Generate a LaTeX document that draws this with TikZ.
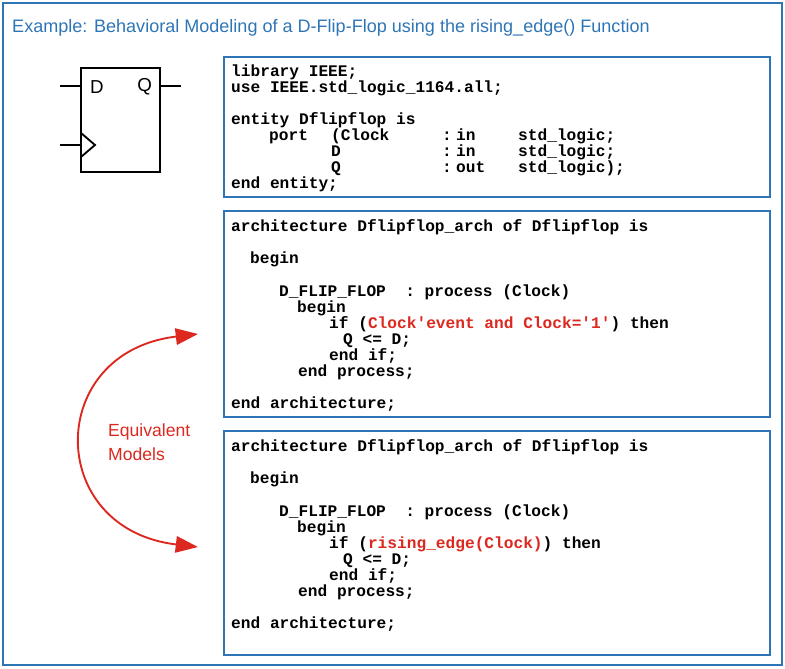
\documentclass[tikz,border=0pt]{standalone}
\usepackage{fontspec}
\setmainfont{Liberation Sans}
\setmonofont{Liberation Mono}
\usetikzlibrary{arrows.meta}
\definecolor{frameblue}{RGB}{46,117,182}
\definecolor{hired}{RGB}{220,40,30}
\newcommand{\red}[1]{\textcolor{hired}{#1}}
\begin{document}
\begin{tikzpicture}[x=0.03cm,y=-0.03cm]

  % Set up styles
  \tikzset{
      codebox/.style={draw=frameblue, line width=1.2pt},
      code/.style={anchor=base west, inner sep=0pt, font=\fontsize{13.8}{15}\ttfamily\bfseries},
      pin/.style={line width=1.6pt},
      equiv/.style={draw=hired, line width=1.6pt, {Triangle[length=19pt,width=14pt]}-{Triangle[length=19pt,width=14pt]}}
  }

  \useasboundingbox (0,0) rectangle (785,668);
  \draw[frameblue, line width=1.5pt] (3,3) rectangle (782,665);
  \node[anchor=base west, inner sep=0pt, text=frameblue, font=\fontsize{15.4}{17}\selectfont] (title) at (12,32)
      {Example: Behavioral Modeling of a D-Flip-Flop using the rising\_edge() Function};

  % flip-flop symbol
  \draw[pin] (81,68) rectangle (160,172);
  \draw[pin] (60,86) -- (81,86);
  \draw[pin] (160,86) -- (181,86);
  \draw[pin] (60,145) -- (81,145);
  \draw[pin] (81,133) -- (95,145) -- (81,157);
  \node[anchor=west, font=\fontsize{16}{17}\selectfont] (dpin) at (86,87) {D};
  \node[anchor=east, font=\fontsize{16}{17}\selectfont] (qpin) at (156,87) {Q};

  % entity box
  \draw[codebox] (224,57) rectangle (770,197);
  \node[code] (e1) at (231,76) {library IEEE;};
  \node[code] (e2) at (231,92) {use IEEE.std\_logic\_1164.all;};
  \node[code] (e3) at (231,124) {entity Dflipflop is};
  \node[code] (e4) at (269,140) {port};
  \foreach \y/\n/\m/\t in {140/(Clock/in/std\_logic;, 156/D/in/std\_logic;, 172/Q/out/std\_logic);} {
      \node[code] at (331,\y) {\n};
      \node[code] at (442,\y) {:};
      \node[code] at (456,\y) {\m};
      \node[code] at (518,\y) {\t};
  }
  \node[code] (e5) at (231,188) {end entity;};

  % architecture boxes
  \draw[codebox] (224,211) rectangle (770,417);
  \draw[codebox] (224,431) rectangle (770,655);
  \foreach \o/\cond in {0/\red{Clock'event and Clock='1'}, 220/\red{rising\_edge(Clock)}} {
      \node[code] at (231,231+\o) {architecture Dflipflop\_arch of Dflipflop is};
      \node[code] at (250,263+\o) {begin};
      \node[code] at (279,296+\o) {D\_FLIP\_FLOP~~:~process~(Clock)};
      \node[code] at (297,312+\o) {begin};
      \node[code] at (329,328+\o) {if~(\cond)~then};
      \node[code] at (343,344+\o) {Q~<=~D;};
      \node[code] at (329,360+\o) {end~if;};
      \node[code] at (298,376+\o) {end~process;};
      \node[code] at (231,408+\o) {end~architecture;};
  }

  % equivalence arrow
  \coordinate (top) at (198,334);
  \coordinate (bot) at (198,547);
  \draw[equiv] (top) .. controls (45,352) and (45,529) .. (bot);
  \node[anchor=base west, inner sep=0pt, text=hired, align=left, font=\fontsize{15}{20}\selectfont] (eq) at (108,460) {Equivalent\\Models};

\end{tikzpicture}
\end{document}
